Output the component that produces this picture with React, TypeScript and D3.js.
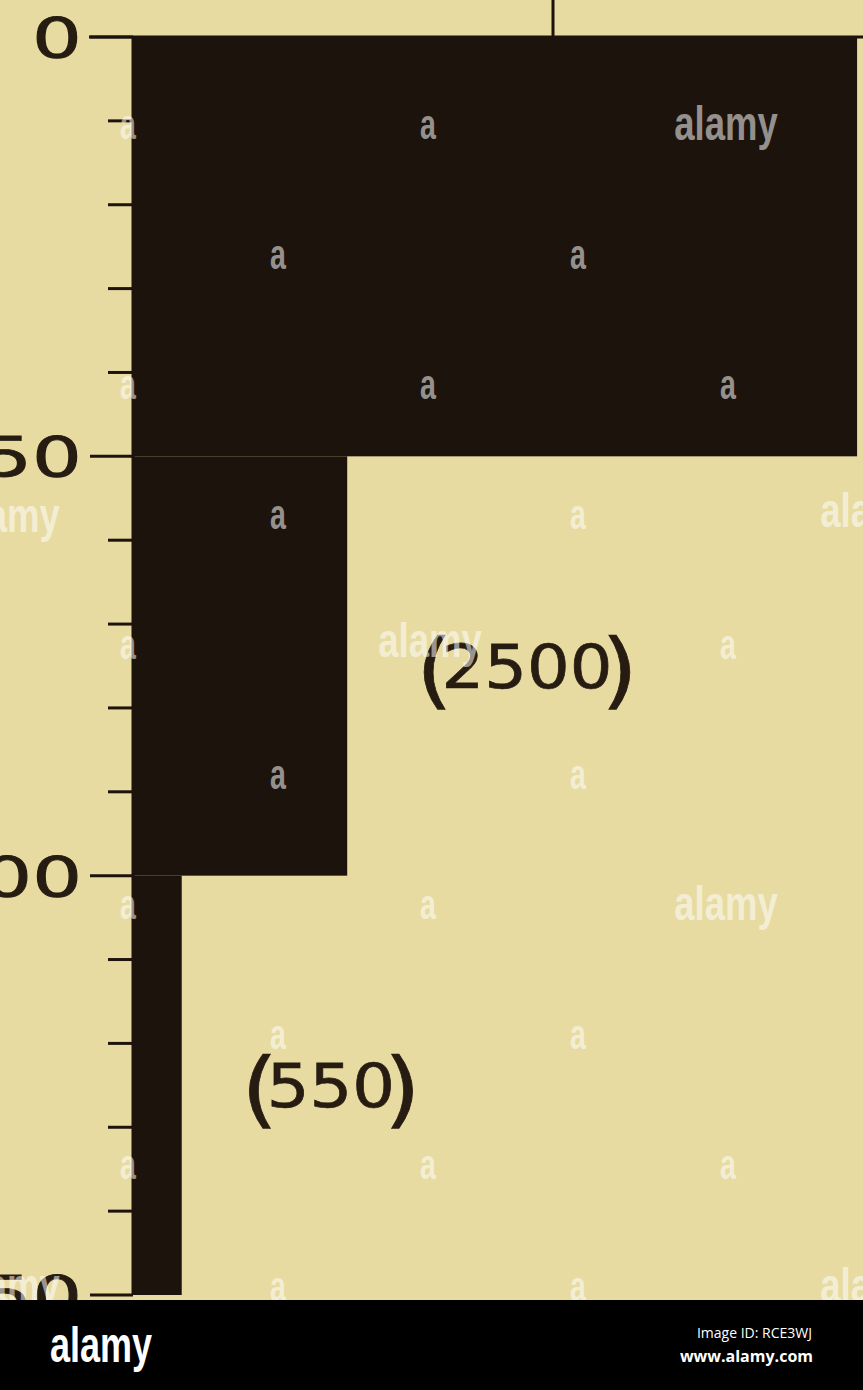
import React from "react";
import * as d3 from "d3";

// ---- data ----
const bandStart = [0, 50, 100];
const bandEnd = [50, 100, 150];
const barValues = [8620, 2550, 580];
const countLabels = ["", "2500", "550"];
const countLabelX = [0, 4690, 2357]; // label centre, in x-axis units
const majorTicks = [0, 50, 100, 150];
const minorTicks = [10, 20, 30, 40, 60, 70, 80, 90, 110, 120, 130, 140];
const topTicks = [5000];

const W = 863;
const H = 1390;
const BG = "#e7dba2";
const INK = "#1b130c";
const TXT = "#261c12";

const wmSmall: [number, number][] = [
  [128, 128], [428, 128],
  [278, 258], [578, 258],
  [128, 388], [428, 388], [728, 388],
  [278, 518], [578, 518],
  [128, 648], [728, 648],
  [278, 778], [578, 778],
  [128, 908], [428, 908],
  [278, 1038], [578, 1038],
  [128, 1168], [428, 1168], [728, 1168],
  [278, 1290], [578, 1290],
];
const wmBig: [number, number][] = [
  [726, 128], [430, 645], [726, 908], [8, 520], [872, 515], [872, 1290], [8, 1290],
];

function sx(cx: number, s: number) {
  return `translate(${cx} 0) scale(${s} 1) translate(${-cx} 0)`;
}

export default function App() {
  const y = d3.scaleLinear().domain([0, 150]).range([37, 1295]);
  const x = d3.scaleLinear().domain([0, 5000]).range([133, 553]);
  const axisFont = "'DejaVu Sans', sans-serif";
  const wmFont = "'Liberation Sans', Arial, sans-serif";

  return (
    <div style={{ position: "absolute", left: 0, top: 0 }}>
      <svg width={W} height={H} style={{ display: "block" }}>
        <rect x={0} y={0} width={W} height={H} fill={BG} />
        {/* top axis line and tick */}
        <line x1={x(0) - 44} x2={W} y1={y(0)} y2={y(0)} stroke={INK} strokeWidth={3} />
        {topTicks.map((t) => (
          <line key={t} x1={x(t)} x2={x(t)} y1={0} y2={y(0)} stroke={INK} strokeWidth={3} />
        ))}
        {/* left axis line */}
        <line x1={x(0)} x2={x(0)} y1={y(0)} y2={y(150)} stroke={INK} strokeWidth={3} />
        {/* bars */}
        {barValues.map((v, i) => (
          <rect
            key={i}
            x={x(0)}
            y={y(bandStart[i])}
            width={x(v) - x(0)}
            height={y(bandEnd[i]) - y(bandStart[i])}
            fill={INK}
          />
        ))}
        {/* ticks */}
        {majorTicks.map((t) => (
          <g key={"M" + t}>
            <line x1={x(0) - 43} x2={x(0)} y1={y(t)} y2={y(t)} stroke={INK} strokeWidth={3} />
            <text
              x={82}
              y={y(t)}
              dy="0.36em"
              textAnchor="end"
              fontFamily={axisFont}
              fontSize={56}
              fill={TXT}
              stroke={TXT}
              strokeWidth={0.9}
              transform={sx(82, 1.4)}
            >
              {t}
            </text>
          </g>
        ))}
        {minorTicks.map((t) => (
          <line key={"m" + t} x1={x(0) - 25} x2={x(0)} y1={y(t)} y2={y(t)} stroke={INK} strokeWidth={3} />
        ))}
        {/* count labels */}
        {countLabels.map((lab, i) => {
          if (!lab) return null;
          const cx = x(countLabelX[i]);
          const base = y((bandStart[i] + bandEnd[i]) / 2) + 22;
          return (
            <text
              key={"c" + i}
              x={cx}
              y={base}
              textAnchor="middle"
              fontFamily={axisFont}
              fontSize={60}
              fill={TXT}
              stroke={TXT}
              strokeWidth={0.7}
              transform={sx(cx, 1.12)}
            >
              <tspan fontSize={84} dy={11}>(</tspan>
              <tspan fontSize={60} dx={-10} dy={-11}>{lab}</tspan>
              <tspan fontSize={84} dx={-10} dy={11}>)</tspan>
            </text>
          );
        })}
        {/* watermarks */}
        {wmSmall.map(([wx, wy], i) => (
          <text
            key={"a" + i}
            x={wx}
            y={wy}
            dy="0.26em"
            textAnchor="middle"
            fontFamily={wmFont}
            fontWeight="bold"
            fontSize={42}
            fill="#ffffff"
            fillOpacity={0.55}
            transform={sx(wx, 0.68)}
          >
            a
          </text>
        ))}
        {wmBig.map(([wx, wy], i) => (
          <text
            key={"w" + i}
            x={wx}
            y={wy}
            dy="0.26em"
            textAnchor="middle"
            fontFamily={wmFont}
            fontWeight="bold"
            fontSize={48}
            fill="#ffffff"
            fillOpacity={0.55}
            transform={sx(wx, 0.76)}
          >
            alamy
          </text>
        ))}
        {/* footer band */}
        <rect x={0} y={1300} width={W} height={H - 1300} fill="#000" />
        <text
          x={50}
          y={1362}
          fontFamily={wmFont}
          fontWeight="bold"
          fontSize={50}
          fill="#fff"
          transform={sx(50, 0.72)}
        >
          alamy
        </text>
        <text x={812} y={1338} textAnchor="end" fontFamily="'Open Sans', sans-serif" fontSize={14} fill="#fff">
          Image ID: RCE3WJ
        </text>
        <text x={813} y={1362} textAnchor="end" fontFamily="'Open Sans', sans-serif" fontWeight="bold" fontSize={16} fill="#fff">
          www.alamy.com
        </text>
      </svg>
    </div>
  );
}
